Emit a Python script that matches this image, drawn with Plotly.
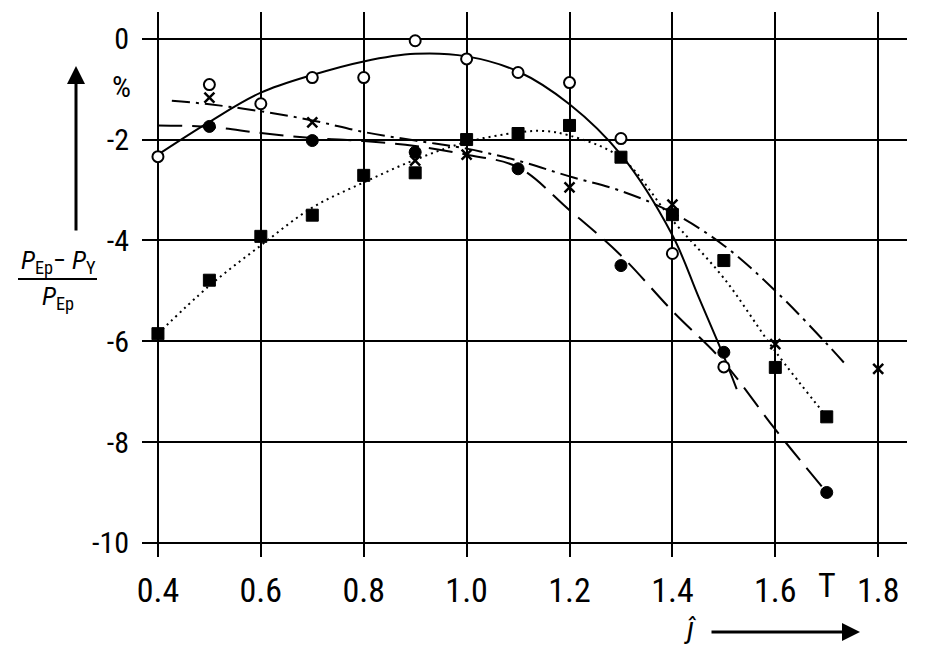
import plotly.graph_objects as go

# ---- data ----
open_x = [0.4, 0.5, 0.6, 0.7, 0.8, 0.9, 1.0, 1.1, 1.2, 1.3, 1.4, 1.5]
open_y = [-2.34, -0.91, -1.29, -0.77, -0.77, -0.04, -0.40, -0.67, -0.87, -1.98, -4.26, -6.51]
solid_x = [0.4, 0.5, 0.6, 0.7, 0.8, 0.9, 1.0, 1.1, 1.2, 1.3, 1.4, 1.45, 1.5, 1.525]
solid_y = [-2.3, -1.65, -1.07, -0.72, -0.45, -0.30, -0.35, -0.65, -1.30, -2.30, -3.90, -5.10, -6.30, -6.95]

dot_x = [0.5, 0.7, 0.9, 1.1, 1.3, 1.5, 1.7]
dot_y = [-1.74, -2.02, -2.25, -2.58, -4.50, -6.22, -9.0]
dash_x = [0.4, 0.5, 0.6, 0.7, 0.8, 0.9, 1.0, 1.1, 1.2, 1.3, 1.4, 1.5, 1.6, 1.7]
dash_y = [-1.72, -1.75, -1.87, -1.97, -2.03, -2.13, -2.30, -2.55, -3.40, -4.30, -5.40, -6.42, -7.75, -9.0]

cross_x = [0.5, 0.7, 0.9, 1.0, 1.2, 1.4, 1.6, 1.8]
cross_y = [-1.17, -1.66, -2.42, -2.30, -2.95, -3.29, -6.06, -6.55]
dashdot_x = [0.427, 0.5, 0.6, 0.7, 0.8, 0.9, 1.0, 1.1, 1.2, 1.3, 1.4, 1.5, 1.6, 1.7, 1.74]
dashdot_y = [-1.23, -1.30, -1.44, -1.62, -1.85, -2.02, -2.18, -2.42, -2.73, -3.02, -3.45, -4.10, -5.00, -6.05, -6.50]

sq_x = [0.4, 0.5, 0.6, 0.7, 0.8, 0.9, 1.0, 1.1, 1.2, 1.3, 1.4, 1.5, 1.6, 1.7]
sq_y = [-5.85, -4.79, -3.92, -3.50, -2.71, -2.66, -2.00, -1.88, -1.72, -2.35, -3.49, -4.40, -6.52, -7.50]
dotted_x = [0.4, 0.5, 0.6, 0.7, 0.8, 0.9, 1.0, 1.1, 1.15, 1.2, 1.3, 1.4, 1.5, 1.6, 1.7]
dotted_y = [-5.85, -4.90, -4.10, -3.35, -2.85, -2.40, -2.05, -1.86, -1.83, -1.92, -2.36, -3.60, -4.75, -6.20, -7.50]

x_tickvals = [0.4, 0.6, 0.8, 1.0, 1.2, 1.4, 1.6, 1.8]
x_ticktext = ["0.4", "0.6", "0.8", "1.0", "1.2", "1.4", "1.6", "1.8"]
y_tickvals = [0, -2, -4, -6, -8, -10]
y_ticktext = ["0", "-2", "-4", "-6", "-8", "-10"]

FONT = "Roboto Condensed, sans-serif"
BLACK = "black"

fig = go.Figure()

def curve(x, y, dash):
    fig.add_trace(go.Scatter(x=x, y=y, mode="lines",
                             line=dict(color=BLACK, width=2, dash=dash, shape="spline"),
                             hoverinfo="skip", showlegend=False))

def pts(x, y, symbol, size, fill, lw):
    fig.add_trace(go.Scatter(x=x, y=y, mode="markers",
                             marker=dict(symbol=symbol, size=size, color=fill,
                                         line=dict(color=BLACK, width=lw)),
                             showlegend=False))

curve(solid_x, solid_y, "solid")
curve(dash_x, dash_y, "24px,10px")
curve(dashdot_x, dashdot_y, "18px,6px,3px,6px")
curve(dotted_x, dotted_y, "2px,4px")

pts(open_x, open_y, "circle", 11, "white", 2)
pts(dot_x, dot_y, "circle", 12, BLACK, 1)
pts(cross_x, cross_y, "x-thin", 10, BLACK, 2.5)
pts(sq_x, sq_y, "square", 12, BLACK, 1)

# plot area pixel mapping helpers (paper coords)
L, R, T, B = 142, 907, 12, 557
def px(x): return (x - L) / (R - L)
def py(y): return (B - y) / (B - T)

fig.update_layout(
    width=930, height=646,
    margin=dict(l=L, r=930 - R, t=T, b=646 - B),
    paper_bgcolor="white", plot_bgcolor="white",
    font=dict(family=FONT, color=BLACK),
    showlegend=False,
    xaxis=dict(range=[0.369, 1.856], tickvals=x_tickvals, ticktext=x_ticktext,
               showgrid=True, gridcolor=BLACK, gridwidth=2, zeroline=False, showline=False,
               ticks="", ticklabelstandoff=10, tickfont=dict(size=34, family=FONT)),
    yaxis=dict(range=[-10.28, 0.53], tickvals=y_tickvals, ticktext=y_ticktext,
               showgrid=True, gridcolor=BLACK, gridwidth=2, zeroline=False, showline=False,
               ticks="", ticklabelstandoff=12, tickfont=dict(size=30, family=FONT)),
)

def label(xp, yp, text, size):
    return dict(x=px(xp), y=py(yp), xref="paper", yref="paper", text=text, showarrow=False,
                xanchor="center", yanchor="middle", font=dict(size=size, family=FONT))

ann = []
# "T" label at 1.7
ann.append(dict(x=1.7, xref="x", y=py(585), yref="paper", text="T", showarrow=False,
                font=dict(size=34, family=FONT), xanchor="center", yanchor="middle"))
# y axis: up arrow and %
ann.append(dict(x=px(76), y=py(66), xref="paper", yref="paper", ax=0, ay=166, axref="pixel", ayref="pixel",
                text="", showarrow=True, arrowhead=2, arrowsize=1.2, arrowwidth=3, arrowcolor=BLACK))
ann.append(label(121, 87, "%", 30))
ann.append(label(58, 261, "<i>P</i><sub>Ep</sub>− <i>P</i><sub>Y</sub>", 26))
ann.append(label(58, 298, "<i>P</i><sub>Ep</sub>", 26))
# x axis label and arrow
ann.append(label(690, 627, "<i>ĵ</i>", 30))
ann.append(dict(x=px(860), y=py(632), xref="paper", yref="paper", ax=-150, ay=0, axref="pixel", ayref="pixel",
                text="", showarrow=True, arrowhead=2, arrowsize=1.2, arrowwidth=3, arrowcolor=BLACK))
fig.update_layout(annotations=ann)

# fraction bar
fig.add_shape(type="line", xref="paper", yref="paper", x0=px(18), x1=px(97), y0=py(279), y1=py(279),
              line=dict(color=BLACK, width=2))

fig.write_html("out.html")
